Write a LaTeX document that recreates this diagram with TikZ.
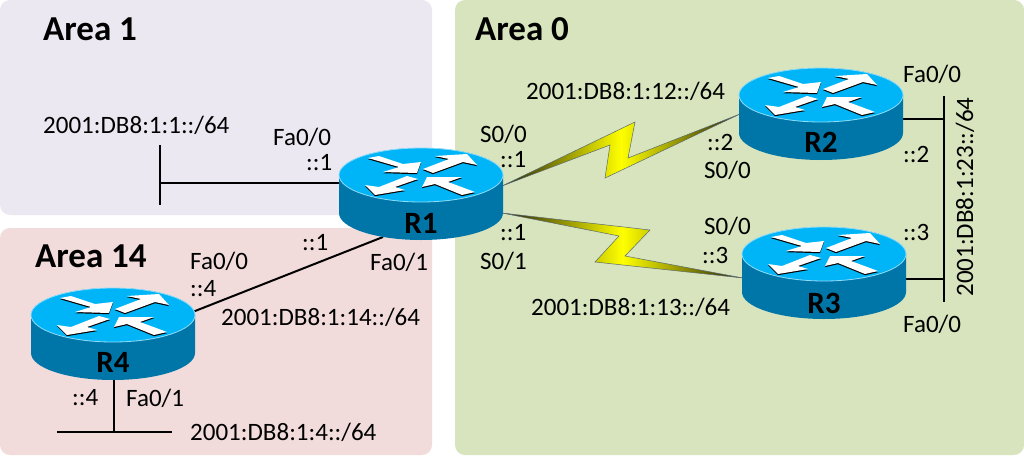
\documentclass[tikz,border=0pt]{standalone}
\usepackage{fontspec}
\setmainfont{Carlito}
\begin{document}
\begin{tikzpicture}[x=1pt,y=-1pt,
  lbl/.style={inner sep=0pt,font=\fontsize{25}{27}\selectfont,text=black},
  area/.style={inner sep=0pt,font=\fontsize{35}{37}\selectfont\bfseries,text=black},
  rlabel/.style={inner sep=0pt,font=\fontsize{31}{33}\selectfont\bfseries,text=black},
  link/.style={draw=black,line width=2pt},
  bar/.style={draw=black,line width=2pt},
  bolt/.style={left color=boltdark,right color=boltdark,middle color=yellow,draw=boltedge,line width=0.5pt},
  shadow/.style={fill=black,yshift=-1.2pt},
  router/.pic={
    \path[fill=routerside] (-82,0) -- (-82,38) arc[start angle=180,end angle=360,x radius=82pt,y radius=27pt] -- (82,0) arc[start angle=0,end angle=180,x radius=82pt,y radius=27pt] -- cycle;
    \path[fill=routertop,draw=routerrim,line width=0.8pt] (0,0) ellipse[x radius=82pt,y radius=27pt];
    \path[shadow] (-53,-17)--(-42,-19)--(-18,-11)--(0,-13)--(-4,-2)--(-38,-3)--(-22,-8)--cycle;
    \path[fill=white] (-53,-17)--(-42,-19)--(-18,-11)--(0,-13)--(-4,-2)--(-38,-3)--(-22,-8)--cycle;
    \path[shadow] (2,-6)--(28,-16)--(14,-19)--(46,-21)--(56,-10)--(42,-13)--(12,-2)--cycle;
    \path[fill=white] (2,-6)--(28,-16)--(14,-19)--(46,-21)--(56,-10)--(42,-13)--(12,-2)--cycle;
    \path[shadow] (-3,4)--(-26,12)--(-16,15)--(-46,20)--(-56,10)--(-42,12)--(-14,1)--cycle;
    \path[fill=white] (-3,4)--(-26,12)--(-16,15)--(-46,20)--(-56,10)--(-42,12)--(-14,1)--cycle;
    \path[shadow] (1,12)--(6,2)--(41,2)--(27,7)--(54,17)--(41,20)--(14,9)--cycle;
    \path[fill=white] (1,12)--(6,2)--(41,2)--(27,7)--(54,17)--(41,20)--(14,9)--cycle;
  }]
\definecolor{routerside}{HTML}{0076A8}
\definecolor{routertop}{HTML}{00B4F8}
\definecolor{routerrim}{HTML}{8FDCF8}
\definecolor{areaone}{HTML}{ECE8F1}
\definecolor{areafourteen}{HTML}{F2DCDB}
\definecolor{areazero}{HTML}{D7E4BD}
\definecolor{boltdark}{HTML}{202008}
\definecolor{boltedge}{HTML}{5A6A70}
\useasboundingbox (0,0) rectangle (1024,455);
\clip (0,0) rectangle (1024,455);
% areas
\fill[areaone,rounded corners=10pt] (0,0) rectangle (432,215);
\fill[areafourteen,rounded corners=10pt] (0,228) rectangle (432,455);
\fill[areazero,rounded corners=10pt] (455,0) rectangle (1024,455);
\node[area,anchor=west] (a1) at (43,29) {Area 1};
\node[area,anchor=west] (a14) at (35,256) {Area 14};
\node[area,anchor=west] (a0) at (475,29) {Area 0};
% router centres
\coordinate (R1c) at (421,175);
\coordinate (R2c) at (821,95);
\coordinate (R3c) at (824,254);
\coordinate (R4c) at (113,315);
% bars
\coordinate (b1t) at (160,145); \coordinate (b1b) at (160,205);
\coordinate (b1m) at (160,183);
\draw[bar] (b1t) -- (b1b);
\coordinate (b4l) at (57,432); \coordinate (b4r) at (172,432); \coordinate (b4m) at (114,432);
\draw[bar] (b4l) -- (b4r);
\coordinate (b23t) at (944,96); \coordinate (b23b) at (944,302);
\coordinate (b2m) at (944,119); \coordinate (b3m) at (944,279);
\draw[bar] (b23t) -- (b23b);
% connectors
\coordinate (R1w) at (345,183);
\coordinate (R1s) at (383,237);
\coordinate (R4e) at (190,313);
\coordinate (R4s) at (114,378);
\coordinate (R2e) at (900,119);
\coordinate (R3e) at (903,279);
\draw[link] (b1m) -- (R1w);
\draw[link] (R1s) -- (R4e);
\draw[link] (R4s) -- (b4m);
\draw[link] (R2e) -- (b2m);
\draw[link] (R3e) -- (b3m);
% serial bolts
\coordinate (s1a) at (502,186); \coordinate (s1b) at (740,114);
\coordinate (s2a) at (502,213); \coordinate (s2b) at (743,278);
\shade[bolt] (s1a) -- (635,122) -- (628,158) -- (s1b) -- (605,178) -- (610,145) -- cycle;
\shade[bolt] (s2a) -- (650,230) -- (625,256) -- (s2b) -- (595,262) -- (619,236) -- cycle;
% routers
\pic at (R1c) {router};
\pic at (R2c) {router};
\pic at (R3c) {router};
\pic at (R4c) {router};
\node[rlabel] (R1) at (421,223) {R1};
\node[rlabel] (R2) at (821,142) {R2};
\node[rlabel] (R3) at (824,303) {R3};
\node[rlabel] (R4) at (113,362) {R4};
% labels
\node[lbl,anchor=west] (l1) at (43,125) {2001:DB8:1:1::/64};
\node[lbl,anchor=west] (l2) at (273,137) {Fa0/0};
\node[lbl,anchor=west] (l3) at (306,163) {::1};
\node[lbl,anchor=west] (l4) at (302,243) {::1};
\node[lbl,anchor=west] (l5) at (370,262) {Fa0/1};
\node[lbl,anchor=west] (l6) at (190,261) {Fa0/0};
\node[lbl,anchor=west] (l7) at (190,289) {::4};
\node[lbl,anchor=west] (l8) at (221,317) {2001:DB8:1:14::/64};
\node[lbl,anchor=west] (l9) at (72,398) {::4};
\node[lbl,anchor=west] (l10) at (126,398) {Fa0/1};
\node[lbl,anchor=west] (l11) at (190,432) {2001:DB8:1:4::/64};
\node[lbl,anchor=west] (l12) at (480,134) {S0/0};
\node[lbl,anchor=west] (l13) at (500,160) {::1};
\node[lbl,anchor=west] (l14) at (500,233) {::1};
\node[lbl,anchor=west] (l15) at (480,261) {S0/1};
\node[lbl,anchor=west] (l16) at (526,91) {2001:DB8:1:12::/64};
\node[lbl,anchor=west] (l17) at (707,142) {::2};
\node[lbl,anchor=west] (l18) at (704,170) {S0/0};
\node[lbl,anchor=west] (l19) at (704,226) {S0/0};
\node[lbl,anchor=west] (l20) at (702,255) {::3};
\node[lbl,anchor=west] (l21) at (531,307) {2001:DB8:1:13::/64};
\node[lbl,anchor=west] (l22) at (903,74) {Fa0/0};
\node[lbl,anchor=west] (l23) at (903,154) {::2};
\node[lbl,anchor=west] (l24) at (903,232) {::3};
\node[lbl,anchor=west] (l25) at (903,324) {Fa0/0};
\node[lbl,rotate=90] (l26) at (965,197) {2001:DB8:1:23::/64};
\end{tikzpicture}
\end{document}
